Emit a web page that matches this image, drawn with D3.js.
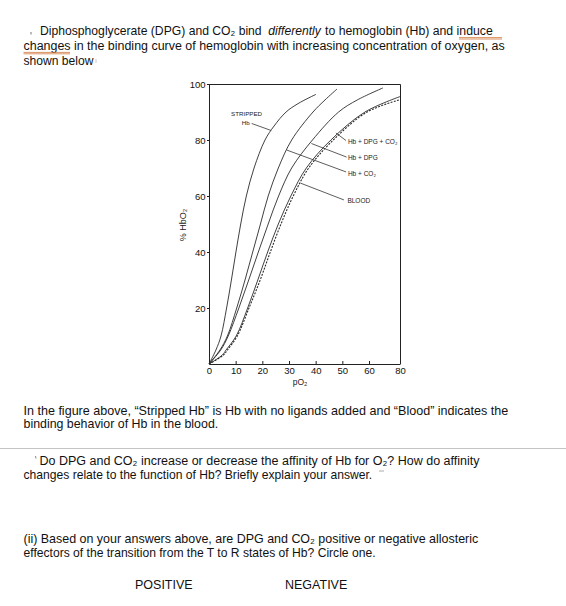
<!DOCTYPE html>
<html><head><meta charset="utf-8">
<script src="https://cdn.jsdelivr.net/npm/d3@7"></script>
<style>
body{margin:0;background:#fff;}
svg{display:block;font-family:"Liberation Sans",Arial,Helvetica,sans-serif;}
</style></head><body>
<svg id="c" width="566" height="606"></svg>
<script>
// ---------- data ----------
const xTicks = [0, 10, 20, 30, 40, 50, 60, 80];
const yTicks = [20, 40, 60, 80, 100];
const xTickLabels = ["0", "10", "20", "30", "40", "50", "60", "80"];

// pO2 values / %HbO2 values
const strippedP = [0, 2.6, 4.5, 6.6, 8.4, 10.1, 11.9, 14.0, 16.9, 21.0, 24.4, 28.9, 33.4, 40.1];
const strippedS = [0, 5, 10, 20, 30, 40, 50, 60, 70, 80, 85, 90, 93, 96.3];
const hbCO2P = [0, 4.1, 6.9, 10.4, 13.5, 16.4, 19.3, 22.2, 26.0, 31.0, 39.0, 43.5, 48.0];
const hbCO2S = [0, 5, 10, 20, 30, 40, 50, 60, 70, 80, 90, 94.3, 98.2];
const hbDPGP = [0, 4.4, 7.2, 11.2, 14.9, 18.5, 22.2, 26.1, 31.0, 38.8, 48.6, 55.6, 69.0];
const hbDPGS = [0, 5, 10, 20, 30, 40, 50, 60, 70, 80, 90, 94.3, 98.6];
const hbDPGCO2P = [0, 5.0, 6.4, 10.2, 14.5, 18.3, 22.0, 26.0, 30.7, 36.5, 45.7, 58.5, 80];
const hbDPGCO2S = [0, 3.2, 5, 10, 20, 30, 40, 50, 60, 70, 80, 90, 95.5];
const bloodP = [0, 5.4, 6.9, 10.6, 15.0, 19.2, 23.0, 27.0, 31.6, 37.4, 46.6, 59.3, 80];
const bloodS = [0, 3.2, 5, 10, 20, 30, 40, 50, 60, 70, 80, 90, 94.4];

const seriesNames = ["Stripped Hb", "Hb + CO\u2082", "Hb + DPG", "Hb + DPG + CO\u2082", "Blood"];
const seriesP = [strippedP, hbCO2P, hbDPGP, hbDPGCO2P, bloodP];
const seriesS = [strippedS, hbCO2S, hbDPGS, hbDPGCO2S, bloodS];
const seriesDashed = [false, false, false, false, true];

// annotation labels: text, text position (pO2, %), leader from -> to (pO2, %)
const annoText = ["Hb + DPG + CO\u2082", "Hb + DPG", "Hb + CO\u2082", "BLOOD"];
const annoPos = [[52.1, 78.6], [52.1, 72.9], [52.1, 67.3], [51.9, 57.5]];
const annoFrom = [[51.4, 79.8], [51.6, 73.9], [51.4, 68.6], [50.6, 58.6]];
const annoTo = [[47.6, 82.5], [38.4, 78.75], [29.2, 76.4], [34.3, 64.6]];

// text pieces: [x, baseline y, text, width, italic]
const textLines = [
  [40, 34.5, "Diphosphoglycerate (DPG) and CO\u2082 bind", 222, false],
  [268.3, 34.5, "differently", 52.5, true],
  [325, 34.5, "to hemoglobin (Hb) and induce", 168, false],
  [23.5, 49.5, "changes in the binding curve of hemoglobin with increasing concentration of oxygen, as", 482, false],
  [23.5, 64.5, "shown below", 70, false],
  [23.5, 414.5, "In the figure above, \u201cStripped Hb\u201d is Hb with no ligands added and \u201cBlood\u201d indicates the", 485, false],
  [23.5, 428.3, "binding behavior of Hb in the blood.", 195, false],
  [39.5, 465.3, "Do DPG and CO\u2082 increase or decrease the affinity of Hb for O\u2082?  How do affinity", 440.5, false],
  [23.5, 479, "changes relate to the function of Hb?  Briefly explain your answer.", 349, false],
  [23.5, 543.3, "(ii) Based on your answers above, are DPG and CO\u2082 positive or negative allosteric", 455, false],
  [23.5, 556.8, "effectors of the transition from the T to R states of Hb? Circle one.", 352.5, false],
  [135, 589.3, "POSITIVE", 57.7, false],
  [285, 589.3, "NEGATIVE", 62.3, false]
];

// ---------- drawing ----------
const svg = d3.select("#c");
const x = d3.scaleLinear().domain([0, 60, 80]).range([209, 369, 400]);
const y = d3.scaleLinear().domain([0, 100]).range([364, 84]);

function txt(g, px, py, s, opts) {
  const t = g.append("text").attr("x", px).attr("y", py).text(s)
    .attr("font-size", opts.size).attr("fill", opts.fill || "#000");
  if (opts.italic) t.attr("font-style", "italic");
  if (opts.width) {
    // fit the font size so the natural width matches the reference width
    const w = t.node().getComputedTextLength();
    if (w > 0) t.attr("font-size", Math.min(opts.size * opts.width / w, opts.size * 1.08));
  }
  if (opts.anchor) t.attr("text-anchor", opts.anchor);
  return t;
}

// body text
const tg = svg.append("g");
textLines.forEach(l => txt(tg, l[0], l[1], l[2], {size: 13, width: l[3], italic: l[4], fill: "#111"}));

// spell-check style underlines
const ul = svg.append("g").attr("stroke", "#d0763a").attr("stroke-width", 0.8);
[[459, 502, 37.6], [459, 502, 39.0], [23.5, 70, 52.4], [23.5, 70, 53.8]].forEach(u =>
  ul.append("line").attr("x1", u[0]).attr("x2", u[1]).attr("y1", u[2]).attr("y2", u[2]));

// small stray marks
svg.append("line").attr("x1", 31).attr("x2", 31).attr("y1", 32).attr("y2", 34.5).attr("stroke", "#777");
svg.append("line").attr("x1", 35.5).attr("x2", 36).attr("y1", 456).attr("y2", 458.5).attr("stroke", "#888");
svg.append("line").attr("x1", 379).attr("x2", 384).attr("y1", 471).attr("y2", 471).attr("stroke", "#aaa");
svg.append("line").attr("x1", 96).attr("x2", 96).attr("y1", 59).attr("y2", 63).attr("stroke", "#ccc");

// separator
svg.append("line").attr("x1", 0).attr("x2", 566).attr("y1", 448.5).attr("y2", 448.5)
  .attr("stroke", "#c4c4c4").attr("stroke-width", 1);

// chart
const cg = svg.append("g").attr("color", "#222");
cg.append("g").attr("transform", `translate(0,${y(0)})`)
  .call(d3.axisBottom(x).tickValues(xTicks).tickFormat((d, i) => xTickLabels[i])
    .tickSizeInner(-3).tickSizeOuter(0).tickPadding(3))
  .call(g => g.selectAll("text").attr("font-size", 9.5).attr("font-family", "Liberation Sans, Arial, sans-serif").attr("fill", "#111"));
cg.append("g").attr("transform", `translate(${x(0)},0)`)
  .call(d3.axisLeft(y).tickValues(yTicks).tickSizeInner(2).tickSizeOuter(0).tickPadding(1.5))
  .call(g => g.selectAll("text").attr("font-size", 9.5).attr("font-family", "Liberation Sans, Arial, sans-serif").attr("fill", "#111"));
// frame top and right
cg.append("path").attr("fill", "none").attr("stroke", "#222")
  .attr("d", `M${x(0)},${y(100) + 0.5}H${x(80) + 0.5}V${y(0)}`);

// axis titles
txt(cg, 300, 385, "pO\u2082", {size: 8.5, anchor: "middle", fill: "#222"});
txt(cg, 0, 0, "% HbO\u2082", {size: 9, anchor: "middle", fill: "#222"})
  .attr("transform", "translate(186,225) rotate(-90)");

// curves
const line = d3.line().x(d => x(d[0])).y(d => y(d[1])).curve(d3.curveCatmullRom.alpha(0.5));
seriesP.forEach((ps, i) => {
  const pts = ps.map((p, j) => [p, seriesS[i][j]]);
  cg.append("path").datum(pts).attr("d", line).attr("fill", "none")
    .attr("stroke", "#2a2a2a").attr("stroke-width", seriesDashed[i] ? 1.1 : 0.9)
    .attr("stroke-dasharray", seriesDashed[i] ? "2,1.3" : null)
    .attr("class", "series").attr("data-name", seriesNames[i]);
});

// annotations
const ag = cg.append("g");
annoText.forEach((t, i) => {
  txt(ag, x(annoPos[i][0]), y(annoPos[i][1]), t, {size: 6.5, fill: "#222"});
  ag.append("line").attr("x1", x(annoFrom[i][0])).attr("y1", y(annoFrom[i][1]))
    .attr("x2", x(annoTo[i][0])).attr("y2", y(annoTo[i][1])).attr("stroke", "#333").attr("stroke-width", 0.8);
});
// stripped Hb label
txt(ag, x(14.1), y(88.4), "STRIPPED", {size: 6.2, anchor: "middle", fill: "#222"});
txt(ag, x(13.8), y(85.2), "Hb", {size: 6.2, anchor: "middle", fill: "#222"});
ag.append("line").attr("x1", x(16.0)).attr("y1", y(85.9)).attr("x2", x(23.3)).attr("y2", y(83.4))
  .attr("stroke", "#333").attr("stroke-width", 0.8);
</script>
</body></html>
